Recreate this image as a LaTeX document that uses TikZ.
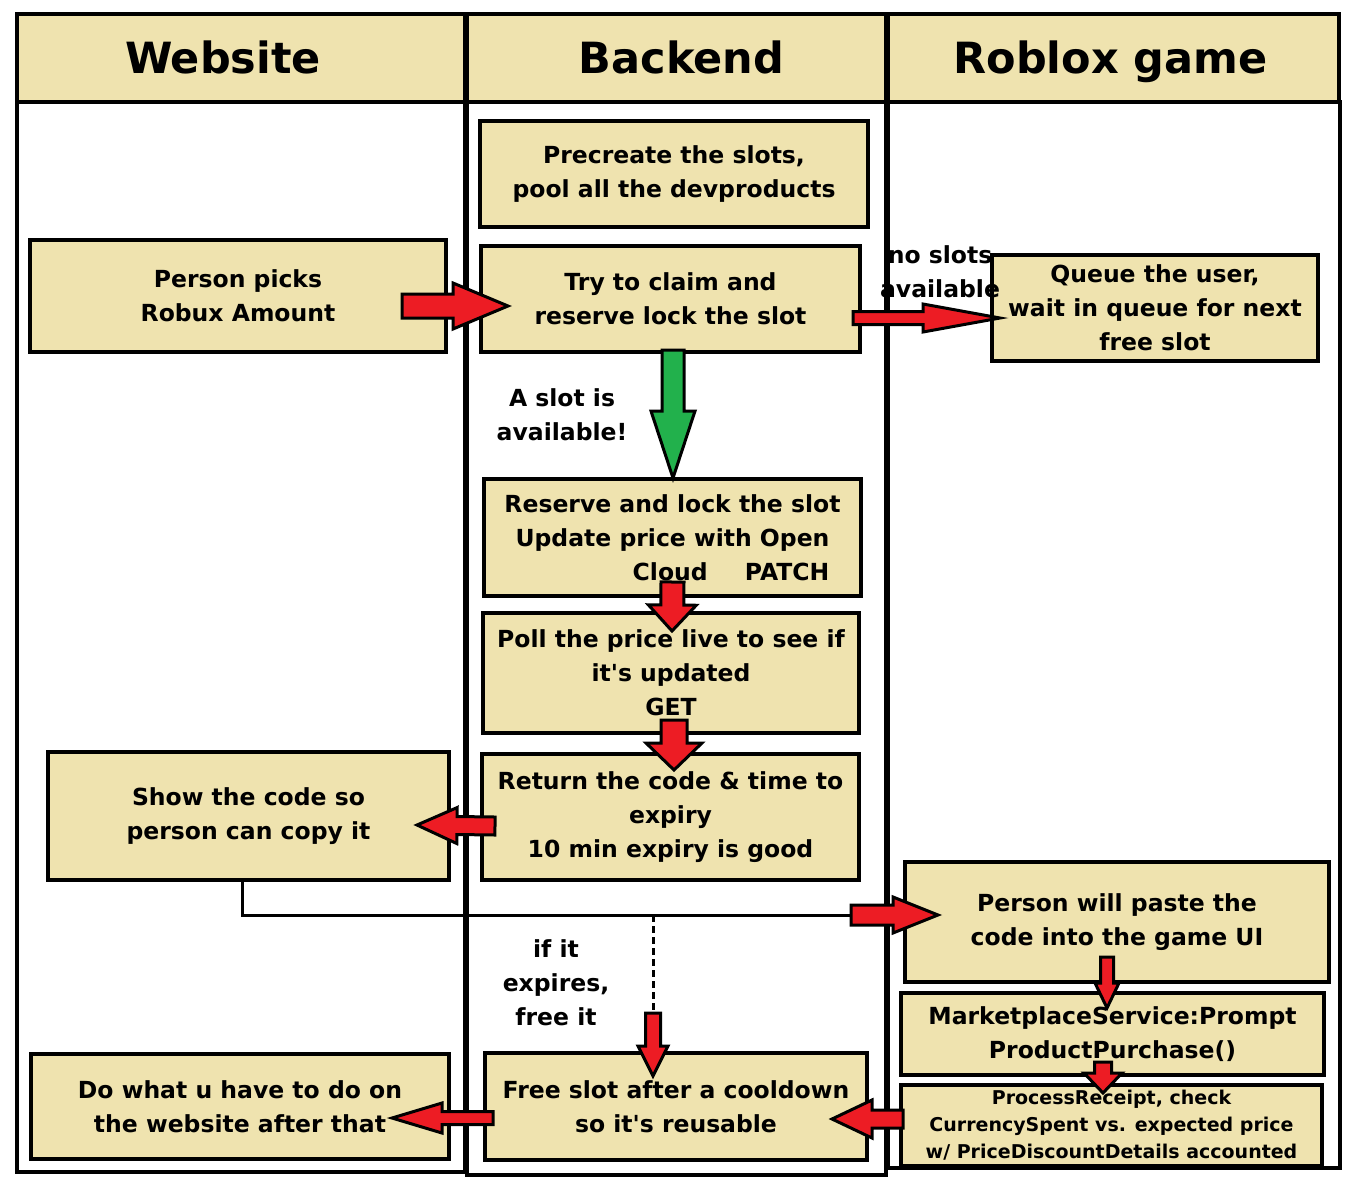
\documentclass[tikz,border=0pt]{standalone}
\usepackage{fontspec}
\setmainfont{DejaVu Sans}[Ligatures=TeXOff]
\usetikzlibrary{calc}
\definecolor{boxfill}{RGB}{239,227,175}
\definecolor{arrowred}{RGB}{237,28,36}
\definecolor{arrowgreen}{RGB}{34,177,76}
\newcommand{\flowfont}{\fontsize{23.5}{34}\selectfont\bfseries}
\newcommand{\headfont}{\fontsize{43}{50}\selectfont\bfseries}

% block arrow: [fill]{tail}{tip}{shaft half width}{head half width}{head length}
\newcommand{\fatarrow}[6][arrowred]{%
  \coordinate (fa-a) at (#2);
  \coordinate (fa-b) at (#3);
  \coordinate (fa-h) at ($(fa-b)!#6!(fa-a)$);
  \filldraw[fill=#1,draw=black,line width=3pt]
    ($(fa-a)!#4!90:(fa-b)$) -- ($(fa-h)!#4!90:(fa-b)$) -- ($(fa-h)!#5!90:(fa-b)$)
    -- (fa-b) -- ($(fa-h)!#5!-90:(fa-b)$) -- ($(fa-h)!#4!-90:(fa-b)$)
    -- ($(fa-a)!#4!-90:(fa-b)$) -- cycle;
}

\begin{document}
\begin{tikzpicture}[x=1pt,y=-1pt,
  lane/.style={draw=black,line width=4pt},
  head/.style={draw=black,line width=4pt,fill=boxfill,font=\headfont,inner sep=0pt,text height=31pt,text depth=0pt},
  flowbox/.style={draw=black,line width=4pt,fill=boxfill,font=\flowfont,align=center,inner sep=0pt},
  lbl/.style={font=\flowfont,align=center,inner sep=0pt}]
\useasboundingbox (0,0) rectangle (1356,1186);

% swimlanes
\draw[lane] (17,102) rectangle (465,1172);
\draw[lane] (467,102) rectangle (886,1175);
\draw[lane] (888,102) rectangle (1340,1168);
\node[head,minimum width=448pt,minimum height=88pt] (webhead) at (241,58) {Website\hspace*{36pt}};
\node[head,minimum width=419pt,minimum height=88pt] (backhead) at (676.5,58) {\hspace*{10pt}Backend};
\node[head,minimum width=451pt,minimum height=88pt] (gamehead) at (1113.5,58) {Roblox game\hspace*{6pt}};

% boxes
\node[flowbox,minimum width=388pt,minimum height=106pt] (precreate) at (674,174) {Precreate the slots,\\pool all the devproducts};
\node[flowbox,minimum width=379pt,minimum height=106pt] (claim) at (670.5,299) {Try to claim and\\reserve lock the slot};
\node[flowbox,minimum width=416pt,minimum height=112pt] (picks) at (238,296) {Person picks\\Robux Amount};
\node[flowbox,minimum width=326pt,minimum height=106pt] (queue) at (1155,308) {Queue the user,\\wait in queue for next\\free slot};
\node[flowbox,minimum width=377pt,minimum height=117pt] (reserve) at (672.5,537.5) {Reserve and lock the slot\\Update price with Open\\\hspace*{117pt}Cloud\hspace{29pt} PATCH};
\node[flowbox,minimum width=376pt,minimum height=120pt] (poll) at (671,673) {Poll the price live to see if\\it's updated\\GET};
\node[flowbox,minimum width=377pt,minimum height=126pt] (return) at (670.5,817) {Return the code \& time to\\expiry\\10 min expiry is good};
\node[flowbox,minimum width=401pt,minimum height=128pt] (show) at (248.5,816) {Show the code so\\person can copy it};
\node[flowbox,minimum width=424pt,minimum height=120pt] (paste) at (1117,922) {Person will paste the\\code into the game UI};
\node[flowbox,minimum width=423pt,minimum height=82pt] (prompt) at (1112.5,1034) {MarketplaceService:Prompt\\ProductPurchase()};
\node[flowbox,minimum width=421pt,minimum height=81pt,font=\fontsize{19}{27}\selectfont\bfseries] (receipt) at (1111.5,1125.5) {ProcessReceipt, check\\CurrencySpent vs. expected price\\w/ PriceDiscountDetails accounted};
\node[flowbox,minimum width=382pt,minimum height=107pt] (free) at (676,1106.5) {Free slot after a cooldown\\so it's reusable};
\node[flowbox,minimum width=418pt,minimum height=105pt] (dowhat) at (240,1106.5) {Do what u have to do on\\the website after that};

% connectors
\coordinate (pastein) at ([xshift=-52pt,yshift=7pt]paste.west);
\coordinate (expire) at ([xshift=-23pt]free.north |- pastein);
\draw[line width=3pt] ([xshift=-6.5pt]show.south) |- (pastein);
\draw[line width=3pt,dash pattern=on 7pt off 4pt] (expire) -- ([xshift=-23pt,yshift=38pt]free.north);

\fatarrow{[xshift=-46pt,yshift=-10pt]picks.east}{[xshift=29pt,yshift=-7pt]claim.west}{12pt}{23pt}{55pt}
\fatarrow{[xshift=-9pt,yshift=-19pt]claim.east}{[xshift=10pt,yshift=-10pt]queue.west}{6.5pt}{14pt}{77pt}
\fatarrow[arrowgreen]{[xshift=2.5pt,yshift=4pt]claim.south}{[xshift=0.5pt,yshift=-1pt]reserve.north}{11pt}{22pt}{67pt}
\fatarrow{[yshift=16pt]reserve.south}{[xshift=1pt,yshift=-20pt]poll.north}{11.5pt}{24pt}{26pt}
\fatarrow{[xshift=3pt,yshift=15pt]poll.south}{[xshift=3.5pt,yshift=-18pt]return.north}{13pt}{28pt}{27pt}
\fatarrow{[xshift=15pt,yshift=-9pt]return.west}{[xshift=-34pt,yshift=-9pt]show.east}{9pt}{18pt}{40pt}
\fatarrow{pastein}{[xshift=35pt,yshift=7pt]paste.west}{10pt}{18pt}{45pt}
\fatarrow{[xshift=-10pt,yshift=27pt]paste.south}{[xshift=-5.5pt,yshift=-17pt]prompt.north}{6.5pt}{12pt}{25pt}
\fatarrow{[xshift=-9.5pt,yshift=15pt]prompt.south}{[xshift=-8.5pt,yshift=-10pt]receipt.north}{8.5pt}{19pt}{20pt}
\fatarrow{[xshift=4pt,yshift=6.5pt]receipt.west}{[xshift=-37pt,yshift=-12.5pt]free.east}{9pt}{19pt}{40pt}
\fatarrow{[xshift=10pt,yshift=-11.5pt]free.west}{[xshift=-59pt,yshift=-11.5pt]dowhat.east}{6.5pt}{15pt}{50pt}
\fatarrow{[xshift=-23pt,yshift=38pt]free.north}{[xshift=-23pt,yshift=-25pt]free.north}{7.5pt}{15pt}{30pt}

% labels
\node[lbl] (noslots) at (940,272) {no slots\\available};
\node[lbl] (aslot) at (562,415) {A slot is\\available!};
\node[lbl] (expires) at (556,983) {if it\\expires,\\free it};
\end{tikzpicture}
\end{document}
